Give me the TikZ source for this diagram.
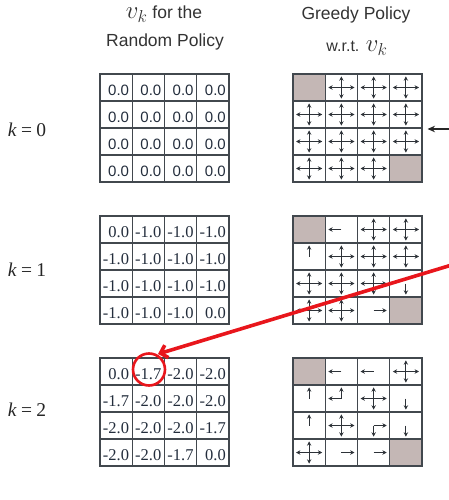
\documentclass[tikz,border=0pt]{standalone}
\usepackage{fontspec}
\setmainfont{Liberation Serif}
\setsansfont{Liberation Sans}
\usetikzlibrary{arrows.meta}
\definecolor{gridc}{RGB}{66,72,78}
\definecolor{txtc}{RGB}{35,45,60}
\definecolor{grayc}{RGB}{196,183,181}
\definecolor{redc}{RGB}{232,22,28}
\definecolor{arrc}{RGB}{45,50,56}
\newcommand\mkvalgrid[3]{%
  \foreach \v [count=\i from 0] in {#3} {
    \pgfmathtruncatemacro\r{\i/4}
    \pgfmathtruncatemacro\c{mod(\i,4)}
    \node[cell] (#1-\r-\c) at ({100+32.25*\c+16.125},{#2+27*\r+13.5}) {};
    \node[#1val] (#1t-\r-\c) at ([xshift=-3pt,yshift=5.5pt]#1-\r-\c.south east) {\v};
  }%
}
\newcommand\mkpolgrid[3]{%
  \foreach \dirs [count=\i from 0] in {#3} {
    \pgfmathtruncatemacro\r{\i/4}
    \pgfmathtruncatemacro\c{mod(\i,4)}
    \node[cell] (#1-\r-\c) at ({293+32.25*\c+16.125},{#2+27*\r+13.5}) {};
    \foreach \d in \dirs { \draw[parr, d-\d] (#1-\r-\c.center) -- (#1-\r-\c.\d); }
  }%
  \node[term] (#1-ga) at (#1-0-0.center) {};
  \node[term] (#1-gb) at (#1-3-3.center) {};
}
\begin{document}
\begin{tikzpicture}[x=1pt,y=-1pt,
  cell/.style={draw=gridc, line width=1.3pt, minimum width=32.25pt, minimum height=27pt, inner sep=0pt, outer sep=0pt},
  term/.style={cell, fill=grayc},
  parr/.style={draw=arrc, line width=0.9pt, -{Stealth[length=4.4pt,width=4.4pt]}},
  d-west/.style={shorten >=3pt}, d-east/.style={shorten >=3pt},
  d-north/.style={shorten >=2.3pt}, d-south/.style={shorten >=2.3pt},
  d-center/.style={draw=none,-},
  v0val/.style={font=\sffamily\fontsize{15}{15}\selectfont, text=txtc, anchor=base east, inner sep=0pt},
  v1val/.style={font=\fontsize{16.5}{16.5}\selectfont, text=txtc, anchor=base east, inner sep=0pt},
  v2val/.style={v1val},
  head/.style={font=\sffamily\fontsize{17.5}{17.5}\selectfont, text=black!80, anchor=base, inner sep=0pt},
  klab/.style={font=\fontsize{19.5}{19.5}\selectfont, text=black!85, anchor=base, inner sep=0pt}]
\useasboundingbox (0,0) rectangle (449,500);

% headers
\node[head] (h1) at (164,19) {{\fontsize{26}{26}\selectfont$v_k$} for the};
\node[head] (h2) at (165,47) {Random Policy};
\node[head] (h3) at (356,20) {Greedy Policy};
\node[head] (h4) at (357,52) {{\fontsize{16}{16}\selectfont w.r.t.} {\fontsize{26}{26}\selectfont$v_k$}};

% k labels
\node[klab] (k0) at (27,136) {\textit{k}\hspace{0.22em}=\hspace{0.22em}0};
\node[klab] (k1) at (27,276) {\textit{k}\hspace{0.22em}=\hspace{0.22em}1};
\node[klab] (k2) at (27,416) {\textit{k}\hspace{0.22em}=\hspace{0.22em}2};

% value grids
\mkvalgrid{v0}{74}{0.0,0.0,0.0,0.0,0.0,0.0,0.0,0.0,0.0,0.0,0.0,0.0,0.0,0.0,0.0,0.0}
\mkvalgrid{v1}{216}{0.0,-1.0,-1.0,-1.0,-1.0,-1.0,-1.0,-1.0,-1.0,-1.0,-1.0,-1.0,-1.0,-1.0,-1.0,0.0}
\mkvalgrid{v2}{358}{0.0,-1.7,-2.0,-2.0,-1.7,-2.0,-2.0,-2.0,-2.0,-2.0,-2.0,-1.7,-2.0,-2.0,-1.7,0.0}

% policy grids
\mkpolgrid{p0}{74}{{center},{west,east,north,south},{west,east,north,south},{west,east,north,south},
 {west,east,north,south},{west,east,north,south},{west,east,north,south},{west,east,north,south},
 {west,east,north,south},{west,east,north,south},{west,east,north,south},{west,east,north,south},
 {west,east,north,south},{west,east,north,south},{west,east,north,south},{center}}
\mkpolgrid{p1}{216}{{center},{west},{west,east,north,south},{west,east,north,south},
 {north},{west,east,north,south},{west,east,north,south},{west,east,north,south},
 {west,east,north,south},{west,east,north,south},{west,east,north,south},{south},
 {west,east,north,south},{west,east,north,south},{east},{center}}
\mkpolgrid{p2}{358}{{center},{west},{west},{west,east,north,south},
 {north},{north,west},{west,east,north,south},{south},
 {north},{west,east,north,south},{south,east},{south},
 {west,east,north,south},{east},{east},{center}}

% black arrow
\coordinate (bs) at (455,129);
\coordinate (bt) at (427.5,129);
\draw[draw=black!85, line width=1.4pt, -{Stealth[length=7.5pt,width=6.5pt]}] (bs) -- (bt);

% red circle and arrow
\node[draw=redc, line width=2.6pt, circle, minimum size=32pt, inner sep=0pt] (circ) at (149,369.5) {};
\coordinate (rs) at (455,264);
\coordinate (rt) at (158,354);
\draw[draw=redc, line width=3.6pt, -{Straight Barb[length=6.5pt,width=13pt]}] (rs) -- (rt);
\end{tikzpicture}
\end{document}
